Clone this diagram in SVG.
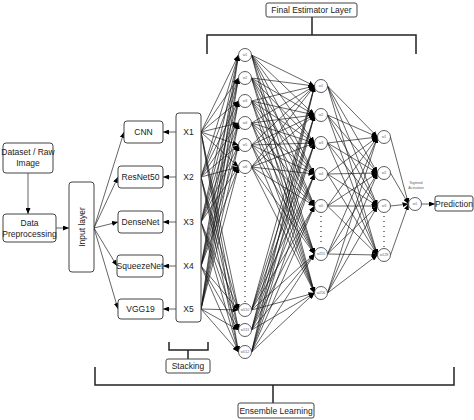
<svg xmlns="http://www.w3.org/2000/svg" width="474" height="420" viewBox="0 0 474 420">
<defs>
<marker id="ah" markerUnits="userSpaceOnUse" markerWidth="6" markerHeight="5" refX="6" refY="2.5" orient="auto"><path d="M0,0 L6,2.5 L0,5 z" fill="#000"/></marker>
<style>
.box{fill:#fff;stroke:#444;stroke-width:1}
.t{font-family:"Liberation Sans",Arial,sans-serif;font-size:8.5px;fill:#222;text-anchor:middle}
.n{fill:#fff;stroke:#333;stroke-width:0.8}
.nl{font-family:"Liberation Sans",Arial,sans-serif;font-size:3.6px;fill:#666;text-anchor:middle}
.br{stroke:#222;stroke-width:1.5;fill:none}
.dot{stroke:#333;stroke-width:1.2;stroke-dasharray:1 4;fill:none}
#connectors line{stroke:#111;stroke-width:0.65;marker-end:url(#ah)}
</style>
</defs>
<rect width="474" height="420" fill="#fff"/>

<g id="brackets">
<path class="br" d="M312,17 V35 M207,54 V35 H416 V54"/>
<path class="br" d="M169,342 V350 H208 V342 M188,350 V359"/>
<path class="br" d="M95,367 V385 H454 V367 M273,385 V403"/>
</g>

<g id="connectors">
<line x1="28" y1="173" x2="28" y2="214"/>
<line x1="56" y1="228" x2="69" y2="228"/>
<line x1="94" y1="228" x2="124" y2="132"/>
<line x1="94" y1="228" x2="118" y2="177"/>
<line x1="94" y1="228" x2="118" y2="222"/>
<line x1="94" y1="228" x2="117" y2="266"/>
<line x1="94" y1="228" x2="118" y2="309"/>
<line x1="176" y1="132" x2="163" y2="132"/>
<line x1="176" y1="177" x2="163" y2="177"/>
<line x1="176" y1="222" x2="163" y2="222"/>
<line x1="176" y1="266" x2="163" y2="266"/>
<line x1="176" y1="309" x2="163" y2="309"/>
<!-- X to L1 -->
<line x1="201" y1="132" x2="238.5" y2="55"/><line x1="201" y1="132" x2="238.5" y2="78"/><line x1="201" y1="132" x2="238.5" y2="101"/><line x1="201" y1="132" x2="238.5" y2="123"/><line x1="201" y1="132" x2="238.5" y2="145"/><line x1="201" y1="132" x2="238.5" y2="167"/><line x1="201" y1="132" x2="238.5" y2="310"/><line x1="201" y1="132" x2="238.5" y2="330"/><line x1="201" y1="132" x2="238.5" y2="352"/>
<line x1="201" y1="177" x2="238.5" y2="55"/><line x1="201" y1="177" x2="238.5" y2="78"/><line x1="201" y1="177" x2="238.5" y2="101"/><line x1="201" y1="177" x2="238.5" y2="123"/><line x1="201" y1="177" x2="238.5" y2="145"/><line x1="201" y1="177" x2="238.5" y2="167"/><line x1="201" y1="177" x2="238.5" y2="310"/><line x1="201" y1="177" x2="238.5" y2="330"/><line x1="201" y1="177" x2="238.5" y2="352"/>
<line x1="201" y1="222" x2="238.5" y2="55"/><line x1="201" y1="222" x2="238.5" y2="78"/><line x1="201" y1="222" x2="238.5" y2="101"/><line x1="201" y1="222" x2="238.5" y2="123"/><line x1="201" y1="222" x2="238.5" y2="145"/><line x1="201" y1="222" x2="238.5" y2="167"/><line x1="201" y1="222" x2="238.5" y2="310"/><line x1="201" y1="222" x2="238.5" y2="330"/><line x1="201" y1="222" x2="238.5" y2="352"/>
<line x1="201" y1="266" x2="238.5" y2="55"/><line x1="201" y1="266" x2="238.5" y2="78"/><line x1="201" y1="266" x2="238.5" y2="101"/><line x1="201" y1="266" x2="238.5" y2="123"/><line x1="201" y1="266" x2="238.5" y2="145"/><line x1="201" y1="266" x2="238.5" y2="167"/><line x1="201" y1="266" x2="238.5" y2="310"/><line x1="201" y1="266" x2="238.5" y2="330"/><line x1="201" y1="266" x2="238.5" y2="352"/>
<line x1="201" y1="309" x2="238.5" y2="55"/><line x1="201" y1="309" x2="238.5" y2="78"/><line x1="201" y1="309" x2="238.5" y2="101"/><line x1="201" y1="309" x2="238.5" y2="123"/><line x1="201" y1="309" x2="238.5" y2="145"/><line x1="201" y1="309" x2="238.5" y2="167"/><line x1="201" y1="309" x2="238.5" y2="310"/><line x1="201" y1="309" x2="238.5" y2="330"/><line x1="201" y1="309" x2="238.5" y2="352"/>
<!-- L1 to L2 -->
<line x1="251.5" y1="55" x2="314.5" y2="86"/><line x1="251.5" y1="55" x2="314.5" y2="115"/><line x1="251.5" y1="55" x2="314.5" y2="143"/><line x1="251.5" y1="55" x2="314.5" y2="174"/><line x1="251.5" y1="55" x2="314.5" y2="206"/><line x1="251.5" y1="55" x2="314.5" y2="254"/><line x1="251.5" y1="55" x2="314.5" y2="293"/>
<line x1="251.5" y1="78" x2="314.5" y2="86"/><line x1="251.5" y1="78" x2="314.5" y2="115"/><line x1="251.5" y1="78" x2="314.5" y2="143"/><line x1="251.5" y1="78" x2="314.5" y2="174"/><line x1="251.5" y1="78" x2="314.5" y2="206"/><line x1="251.5" y1="78" x2="314.5" y2="254"/><line x1="251.5" y1="78" x2="314.5" y2="293"/>
<line x1="251.5" y1="101" x2="314.5" y2="86"/><line x1="251.5" y1="101" x2="314.5" y2="115"/><line x1="251.5" y1="101" x2="314.5" y2="143"/><line x1="251.5" y1="101" x2="314.5" y2="174"/><line x1="251.5" y1="101" x2="314.5" y2="206"/><line x1="251.5" y1="101" x2="314.5" y2="254"/><line x1="251.5" y1="101" x2="314.5" y2="293"/>
<line x1="251.5" y1="123" x2="314.5" y2="86"/><line x1="251.5" y1="123" x2="314.5" y2="115"/><line x1="251.5" y1="123" x2="314.5" y2="143"/><line x1="251.5" y1="123" x2="314.5" y2="174"/><line x1="251.5" y1="123" x2="314.5" y2="206"/><line x1="251.5" y1="123" x2="314.5" y2="254"/><line x1="251.5" y1="123" x2="314.5" y2="293"/>
<line x1="251.5" y1="145" x2="314.5" y2="86"/><line x1="251.5" y1="145" x2="314.5" y2="115"/><line x1="251.5" y1="145" x2="314.5" y2="143"/><line x1="251.5" y1="145" x2="314.5" y2="174"/><line x1="251.5" y1="145" x2="314.5" y2="206"/><line x1="251.5" y1="145" x2="314.5" y2="254"/><line x1="251.5" y1="145" x2="314.5" y2="293"/>
<line x1="251.5" y1="167" x2="314.5" y2="86"/><line x1="251.5" y1="167" x2="314.5" y2="115"/><line x1="251.5" y1="167" x2="314.5" y2="143"/><line x1="251.5" y1="167" x2="314.5" y2="174"/><line x1="251.5" y1="167" x2="314.5" y2="206"/><line x1="251.5" y1="167" x2="314.5" y2="254"/><line x1="251.5" y1="167" x2="314.5" y2="293"/>
<line x1="251.5" y1="310" x2="314.5" y2="86"/><line x1="251.5" y1="310" x2="314.5" y2="115"/><line x1="251.5" y1="310" x2="314.5" y2="143"/><line x1="251.5" y1="310" x2="314.5" y2="174"/><line x1="251.5" y1="310" x2="314.5" y2="206"/><line x1="251.5" y1="310" x2="314.5" y2="254"/><line x1="251.5" y1="310" x2="314.5" y2="293"/>
<line x1="251.5" y1="330" x2="314.5" y2="86"/><line x1="251.5" y1="330" x2="314.5" y2="115"/><line x1="251.5" y1="330" x2="314.5" y2="143"/><line x1="251.5" y1="330" x2="314.5" y2="174"/><line x1="251.5" y1="330" x2="314.5" y2="206"/><line x1="251.5" y1="330" x2="314.5" y2="254"/><line x1="251.5" y1="330" x2="314.5" y2="293"/>
<line x1="251.5" y1="352" x2="314.5" y2="86"/><line x1="251.5" y1="352" x2="314.5" y2="115"/><line x1="251.5" y1="352" x2="314.5" y2="143"/><line x1="251.5" y1="352" x2="314.5" y2="174"/><line x1="251.5" y1="352" x2="314.5" y2="206"/><line x1="251.5" y1="352" x2="314.5" y2="254"/><line x1="251.5" y1="352" x2="314.5" y2="293"/>
<!-- L2 to L3 -->
<line x1="327.5" y1="86" x2="377.5" y2="137"/><line x1="327.5" y1="86" x2="377.5" y2="173"/><line x1="327.5" y1="86" x2="377.5" y2="206"/><line x1="327.5" y1="86" x2="377.5" y2="255"/>
<line x1="327.5" y1="115" x2="377.5" y2="137"/><line x1="327.5" y1="115" x2="377.5" y2="173"/><line x1="327.5" y1="115" x2="377.5" y2="206"/><line x1="327.5" y1="115" x2="377.5" y2="255"/>
<line x1="327.5" y1="143" x2="377.5" y2="137"/><line x1="327.5" y1="143" x2="377.5" y2="173"/><line x1="327.5" y1="143" x2="377.5" y2="206"/><line x1="327.5" y1="143" x2="377.5" y2="255"/>
<line x1="327.5" y1="174" x2="377.5" y2="137"/><line x1="327.5" y1="174" x2="377.5" y2="173"/><line x1="327.5" y1="174" x2="377.5" y2="206"/><line x1="327.5" y1="174" x2="377.5" y2="255"/>
<line x1="327.5" y1="206" x2="377.5" y2="137"/><line x1="327.5" y1="206" x2="377.5" y2="173"/><line x1="327.5" y1="206" x2="377.5" y2="206"/><line x1="327.5" y1="206" x2="377.5" y2="255"/>
<line x1="327.5" y1="254" x2="377.5" y2="137"/><line x1="327.5" y1="254" x2="377.5" y2="173"/><line x1="327.5" y1="254" x2="377.5" y2="206"/><line x1="327.5" y1="254" x2="377.5" y2="255"/>
<line x1="327.5" y1="293" x2="377.5" y2="137"/><line x1="327.5" y1="293" x2="377.5" y2="173"/><line x1="327.5" y1="293" x2="377.5" y2="206"/><line x1="327.5" y1="293" x2="377.5" y2="255"/>
<!-- L3 to out -->
<line x1="390.5" y1="137" x2="408.5" y2="204"/><line x1="390.5" y1="173" x2="408.5" y2="204"/><line x1="390.5" y1="206" x2="408.5" y2="204"/><line x1="390.5" y1="255" x2="408.5" y2="204"/>
<line x1="421.5" y1="204" x2="435" y2="204"/>
</g>

<g id="final-estimator"><rect class="box" x="266" y="3" width="91" height="14" rx="2"/><text class="t" x="311.5" y="13" font-size="8">Final Estimator Layer</text></g>
<g id="dataset"><rect class="box" x="3" y="143" width="50" height="30" rx="3"/><text class="t" x="28" y="155" font-size="8">Dataset / Raw</text><text class="t" x="28" y="166" font-size="8">Image</text></g>
<g id="preprocessing"><rect class="box" x="3" y="214" width="53" height="28" rx="3"/><text class="t" x="29.5" y="226" font-size="8">Data</text><text class="t" x="29.5" y="237" font-size="8">Preprocessing</text></g>
<g id="input-layer"><rect class="box" x="69" y="182" width="25" height="90" rx="3"/><text class="t" x="0" y="0" font-size="10.5" transform="translate(85,227) rotate(-90)">Input layer</text></g>
<g id="cnn"><rect class="box" x="124" y="121" width="39" height="22" rx="3"/><text class="t" x="143.5" y="135">CNN</text></g>
<g id="resnet50"><rect class="box" x="118" y="166" width="45" height="22" rx="3"/><text class="t" x="140.5" y="180">ResNet50</text></g>
<g id="densenet"><rect class="box" x="118" y="211" width="45" height="22" rx="3"/><text class="t" x="140.5" y="225">DenseNet</text></g>
<g id="squeezenet"><rect class="box" x="117" y="255" width="46" height="22" rx="3"/><text class="t" x="140" y="269" font-size="7.8">SqueezeNet</text></g>
<g id="vgg19"><rect class="box" x="118" y="299" width="45" height="20" rx="3"/><text class="t" x="140.5" y="312">VGG19</text></g>
<g id="x-box"><rect class="box" x="176" y="113" width="25" height="209" rx="3"/>
<text class="t" x="188.5" y="135">X1</text><text class="t" x="188.5" y="180">X2</text><text class="t" x="188.5" y="225">X3</text><text class="t" x="188.5" y="269">X4</text><text class="t" x="188.5" y="312">X5</text></g>

<g id="layer1">
<circle class="n" cx="245" cy="55" r="6.5"/><text class="nl" x="245" y="56.3">w1</text>
<circle class="n" cx="245" cy="78" r="6.5"/><text class="nl" x="245" y="79.3">w2</text>
<circle class="n" cx="245" cy="101" r="6.5"/><text class="nl" x="245" y="102.3">w3</text>
<circle class="n" cx="245" cy="123" r="6.5"/><text class="nl" x="245" y="124.3">w4</text>
<circle class="n" cx="245" cy="145" r="6.5"/><text class="nl" x="245" y="146.3">w5</text>
<circle class="n" cx="245" cy="167" r="6.5"/><text class="nl" x="245" y="168.3">w6</text>
<path class="dot" d="M245,176 V302"/>
<circle class="n" cx="245" cy="310" r="6.5"/><text class="nl" x="245" y="311.3">w510</text>
<circle class="n" cx="245" cy="330" r="6.5"/><text class="nl" x="245" y="331.3">w511</text>
<circle class="n" cx="245" cy="352" r="6.5"/><text class="nl" x="245" y="353.3">w512</text>
</g>
<g id="layer2">
<circle class="n" cx="321" cy="86" r="6.5"/><text class="nl" x="321" y="87.3">w1</text>
<circle class="n" cx="321" cy="115" r="6.5"/><text class="nl" x="321" y="116.3">w2</text>
<circle class="n" cx="321" cy="143" r="6.5"/><text class="nl" x="321" y="144.3">w3</text>
<circle class="n" cx="321" cy="174" r="6.5"/><text class="nl" x="321" y="175.3">w4</text>
<circle class="n" cx="321" cy="206" r="6.5"/><text class="nl" x="321" y="207.3">w5</text>
<path class="dot" d="M321,216 V246"/>
<circle class="n" cx="321" cy="254" r="6.5"/><text class="nl" x="321" y="255.3">w255</text>
<circle class="n" cx="321" cy="293" r="6.5"/><text class="nl" x="321" y="294.3">w256</text>
</g>
<g id="layer3">
<circle class="n" cx="384" cy="137" r="6.5"/><text class="nl" x="384" y="138.3">w1</text>
<circle class="n" cx="384" cy="173" r="6.5"/><text class="nl" x="384" y="174.3">w2</text>
<circle class="n" cx="384" cy="206" r="6.5"/><text class="nl" x="384" y="207.3">w3</text>
<path class="dot" d="M384,216 V247"/>
<circle class="n" cx="384" cy="255" r="6.5"/><text class="nl" x="384" y="256.3">w128</text>
</g>
<g id="output">
<circle class="n" cx="415" cy="204" r="6.5"/><text class="nl" x="415" y="205.3">w1</text>
<text class="nl" x="416" y="184" font-size="3.8">Sigmoid</text><text class="nl" x="416" y="189" font-size="3.8">Activation</text>
</g>
<g id="prediction"><rect class="box" x="435" y="196" width="38" height="15" rx="2"/><text class="t" x="454" y="207" font-size="9.5">Prediction</text></g>
<g id="stacking"><rect class="box" x="166" y="359" width="44" height="14" rx="2"/><text class="t" x="188" y="369" font-size="8">Stacking</text></g>
<g id="ensemble"><rect class="box" x="238" y="403" width="76" height="15" rx="2"/><text class="t" x="276" y="414" font-size="8">Ensemble Learning</text></g>
</svg>
